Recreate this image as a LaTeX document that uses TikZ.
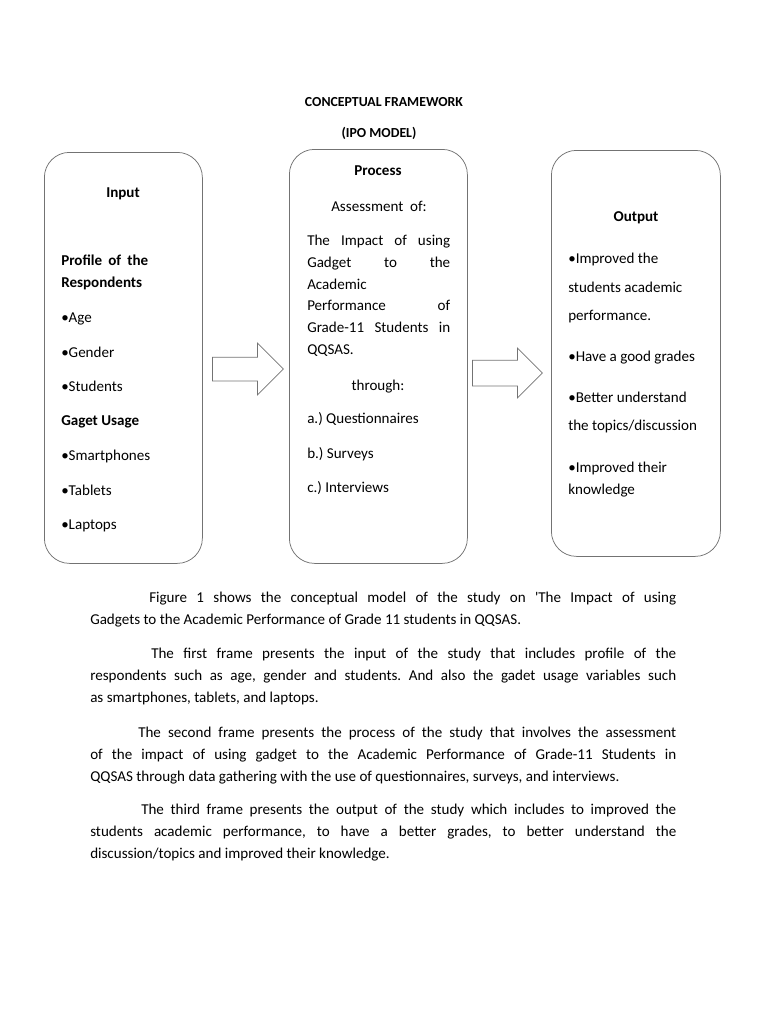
\documentclass[tikz,border=0pt]{standalone}
\usepackage{fontspec}
\setmainfont{Carlito}
\usetikzlibrary{shapes.arrows}

\newdimen\px \px=0.797pt
\newcommand\ipobody{\fontsize{12}{17.5}\selectfont\frenchspacing}
\newcommand\ipohead{\fontsize{12}{14}\selectfont\bfseries}
\newcommand\ipotitle{\fontsize{11}{13}\selectfont\bfseries}

\begin{document}
\begin{tikzpicture}[x=\px, y=-\px,
    frame/.style={draw=black!55, line width=0.6pt, rounded corners=20pt, inner sep=0, anchor=north west},
    blockarrow/.style={single arrow, draw=black!55, line width=0.6pt, single arrow tip angle=90, inner xsep=0, anchor=tail},
    txt/.style={inner sep=0, anchor=base west, font=\ipobody},
    hd/.style={inner sep=0, anchor=base, font=\ipohead},
    para/.style={inner sep=0, anchor=north west, text width=586\px, align=justify, font=\ipobody,
        execute at begin node={\hyphenpenalty=10000\exhyphenpenalty=10000\relax}}]

    \useasboundingbox (0,0) rectangle (768,1024);

    % Title
    \node[hd, font=\ipotitle] (title) at (384,106) {CONCEPTUAL FRAMEWORK};
    \node[hd, font=\ipotitle] (ipo) at (379,137) {(IPO MODEL)};

    % Frames
    \node[frame, minimum width=158\px, minimum height=411\px] (input) at (44,152) {};
    \node[frame, minimum width=178\px, minimum height=414\px] (process) at (289,149) {};
    \node[frame, minimum width=169\px, minimum height=406\px] (output) at (551,150) {};

    % Block arrows
    \node[blockarrow, minimum height=71\px, inner ysep=11.5\px, single arrow head extend=14\px] (arr1) at (212,369) {};
    \node[blockarrow, minimum height=70\px, inner ysep=12.5\px, single arrow head extend=12\px] (arr2) at (472,373) {};

    % Input
    \node[hd] (in-title) at (123,197) {Input};
    \node[txt, font=\ipohead] (in-prof) at (61,265) {\makebox[87\px][s]{Profile of the}};
    \node[txt, font=\ipohead] (in-resp) at (61,287) {Respondents};
    \node[txt, font=\ipohead] (in-gaget) at (61,425) {Gaget Usage};
    \foreach \y/\t in {322/Age, 357/Gender, 391/Students, 460/Smartphones, 495/Tablets, 529/Laptops}
        \node[txt] (in-\t) at (61,\y) {\textbullet\t};

    % Process
    \node[hd] (pr-title) at (378,175) {Process};
    \node[txt, anchor=base] (pr-assess) at (379,211) {Assessment\ \ of:};
    \foreach \y/\t [count=\i] in {245/The Impact of using, 267/Gadget to the, 310/Performance of, 332/Grade-11 Students in}
        \node[txt] (pr-line\i) at (307,\y) {\makebox[143\px][s]{\t}};
    \node[txt] (pr-acad) at (307,289) {Academic};
    \node[txt] (pr-qq) at (307,354) {QQSAS.};
    \node[txt, anchor=base] (pr-through) at (378,390) {through:};
    \node[txt] (pr-a) at (307,423) {a.) Questionnaires};
    \node[txt] (pr-b) at (307,458) {b.) Surveys};
    \node[txt] (pr-c) at (307,492) {c.) Interviews};

    % Output
    \node[hd] (out-title) at (636,221) {Output};
    \foreach \y/\t [count=\i] in {263/\textbullet Improved the, 292/students academic, 320/performance.,
        361/\textbullet Have a good grades, 402/\textbullet Better understand, 430/{the topics/discussion},
        472/\textbullet Improved their, 494/knowledge}
        \node[txt] (out-\i) at (568,\y) {\t};

    % Description
    \node[para] (p1) at (90,592) {\hspace*{59\px}Figure 1 shows the conceptual model of the study on \textquotesingle The Impact of using\linebreak
        Gadgets to the Academic Performance of Grade 11 students in QQSAS.};
    \node[para] (p2) at (90,648) {\hspace*{61\px}The first frame presents the input of the study that includes profile of the\linebreak
        respondents such as age, gender and students. And also the gadet usage variables such\linebreak
        as smartphones, tablets, and laptops.};
    \node[para] (p3) at (90,727) {\hspace*{48\px}The second frame presents the process of the study that involves the assessment\linebreak
        of the impact of using gadget to the Academic Performance of Grade-11 Students in\linebreak
        QQSAS through data gathering with the use of questionnaires, surveys, and interviews.};
    \node[para] (p4) at (90,804) {\hspace*{51\px}The third frame presents the output of the study which includes to improved the\linebreak
        students academic performance, to have a better grades, to better understand the\linebreak
        discussion/topics and improved their knowledge.};

\end{tikzpicture}
\end{document}
